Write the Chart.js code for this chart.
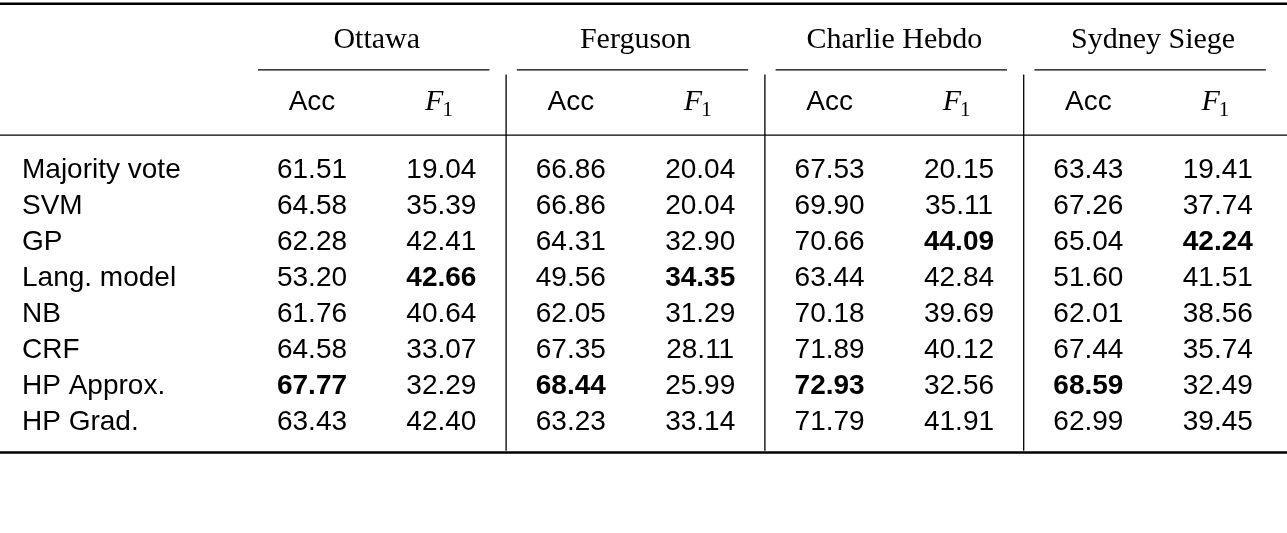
<!DOCTYPE html>
<html><head><meta charset="utf-8">
<script src="https://cdn.jsdelivr.net/npm/chart.js@4/dist/chart.umd.min.js"></script>
<style>html,body{margin:0;background:#fff}#w{width:1287px;height:533px}</style>
</head><body><div id="w"><canvas id="c"></canvas></div>
<script>
const groups = ['Ottawa','Ferguson','Charlie Hebdo','Sydney Siege'];
const metrics = ['Acc','F1'];
const methods = ['Majority vote','SVM','GP','Lang. model','NB','CRF','HP Approx.','HP Grad.'];
const ottawaAcc   = [61.51,64.58,62.28,53.20,61.76,64.58,67.77,63.43];
const ottawaF1    = [19.04,35.39,42.41,42.66,40.64,33.07,32.29,42.40];
const fergusonAcc = [66.86,66.86,64.31,49.56,62.05,67.35,68.44,63.23];
const fergusonF1  = [20.04,20.04,32.90,34.35,31.29,28.11,25.99,33.14];
const charlieAcc  = [67.53,69.90,70.66,63.44,70.18,71.89,72.93,71.79];
const charlieF1   = [20.15,35.11,44.09,42.84,39.69,40.12,32.56,41.91];
const sydneyAcc   = [63.43,67.26,65.04,51.60,62.01,67.44,68.59,62.99];
const sydneyF1    = [19.41,37.74,42.24,41.51,38.56,35.74,32.49,39.45];
const columns = [ottawaAcc,ottawaF1,fergusonAcc,fergusonF1,charlieAcc,charlieF1,sydneyAcc,sydneyF1];

const SERIF = '"Liberation Serif", "DejaVu Serif", serif';
const SANS = '"Liberation Sans", Arial, sans-serif';
const datasets = columns.map((col,ci)=>({data:col.map((v,ri)=>({x:ci+1,y:ri})),pointRadius:0}));

const tablePlugin = {
  id:'table',
  afterDraw(chart){
    const ctx = chart.ctx, xs = chart.scales.x, ys = chart.scales.y;
    const X = v=>xs.getPixelForValue(v), Y = v=>ys.getPixelForValue(v);
    ctx.save();
    ctx.fillStyle='#000'; ctx.strokeStyle='#000';
    ctx.textBaseline='middle';
    const line=(x1,y1,x2,y2,w)=>{ctx.lineWidth=w;ctx.beginPath();ctx.moveTo(x1,y1);ctx.lineTo(x2,y2);ctx.stroke();};
    line(0,Y(-4.62),1287,Y(-4.62),2.5);
    line(0,Y(-0.97),1287,Y(-0.97),1.3);
    line(0,Y(7.85),1287,Y(7.85),2.5);
    for(let g=0;g<4;g++){
      line(X(1+2*g)-54,Y(-2.78),X(2+2*g)+48,Y(-2.78),1.3);
      ctx.font='30px '+SERIF; ctx.textAlign='center';
      ctx.fillText(groups[g],(X(1+2*g)+X(2+2*g))/2,Y(-3.62));
      ctx.font='28px '+SANS;
      ctx.fillText(metrics[0],X(1+2*g),Y(-1.89));
      const fx=X(2+2*g);
      ctx.font='italic 30px '+SERIF; ctx.textAlign='right'; ctx.fillText('F',fx+2,Y(-1.89));
      ctx.font='21px '+SERIF; ctx.textAlign='left'; ctx.fillText('1',fx+1,Y(-1.65));
      if(g>0) line((X(2*g)+X(2*g+1))/2,Y(-2.65),(X(2*g)+X(2*g+1))/2,Y(7.8),1.3);
    }
    ctx.font='28px '+SANS; ctx.textAlign='left';
    methods.forEach((m,ri)=>ctx.fillText(m,22,Y(ri)));
    ctx.textAlign='center';
    columns.forEach((col,ci)=>{
      const mx=Math.max(...col);
      col.forEach((v,ri)=>{
        ctx.font=(v===mx?'bold ':'')+'28px '+SANS;
        ctx.fillText(v.toFixed(2),X(ci+1),Y(ri));
      });
    });
    ctx.restore();
  }
};

new Chart(document.getElementById('c'),{
  type:'scatter',
  data:{datasets},
  options:{
    responsive:true,maintainAspectRatio:false,animation:false,
    layout:{padding:0},
    plugins:{legend:{display:false},tooltip:{enabled:false}},
    scales:{
      x:{type:'linear',display:false,min:1-312/129.4,max:1-312/129.4+1287/129.4},
      y:{type:'linear',display:false,reverse:true,min:-170/36,max:(533-170)/36}
    }
  },
  plugins:[tablePlugin]
});
</script></body></html>
